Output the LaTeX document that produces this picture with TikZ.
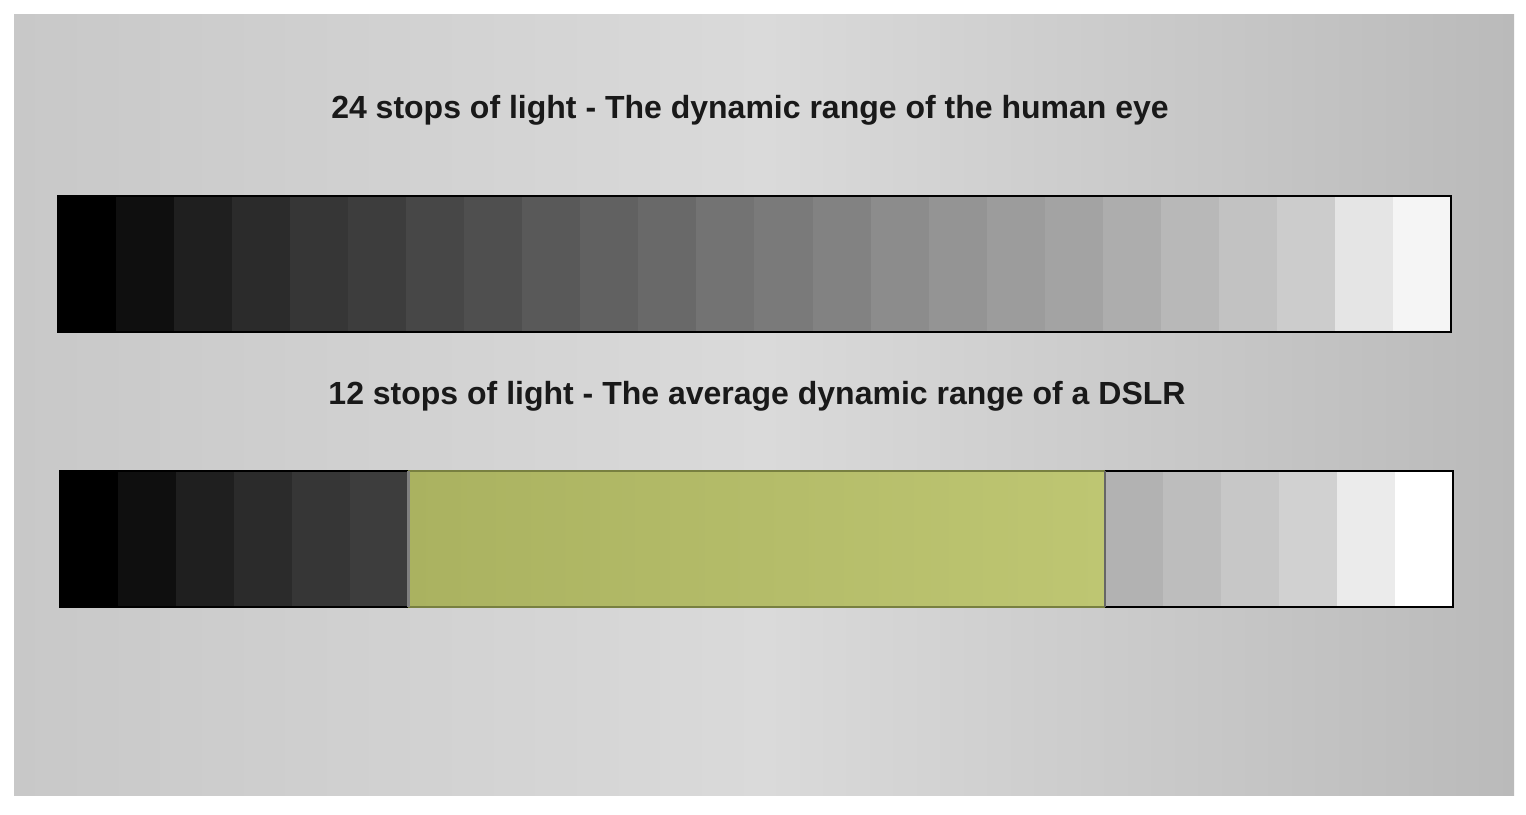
\documentclass[tikz,border=0pt]{standalone}
\usepackage{fontspec}
\setmainfont{Liberation Sans}
\usepackage{xcolor}
\usepackage{tikz}
\usetikzlibrary{positioning}
\definecolor{wallleft}{RGB}{200,200,200}
\definecolor{wallmid}{RGB}{218,218,218}
\definecolor{wallright}{RGB}{186,186,186}
\definecolor{rangeleft}{RGB}{170,178,96}
\definecolor{rangeright}{RGB}{190,198,114}
\definecolor{rangeedge}{RGB}{120,128,64}
\tikzset{
    stepcell/.style = {inner sep=0pt, outer sep=0pt, draw=none,
        minimum width=29.02pt, minimum height=68pt},
    bartitle/.style = {font=\bfseries\fontsize{16}{19}\selectfont, text=black!90},
    barframe/.style = {draw=black, line width=1.2pt},
}

\begin{document}
\begin{tikzpicture}[x=0.5pt, y=-0.5pt]
        \useasboundingbox (0,0) rectangle (1526,814);
        % backdrop
        \shade[left color=wallleft, right color=wallright, middle color=wallmid] (14,14) rectangle (1514,795);
        % human eye, 24 stops
        \node (eyetitle) [bartitle] at (750,110) {24 stops of light - The dynamic range of the human eye};
        \node (eye0) [stepcell, fill=black, anchor=north west] at (58,196) {};
        \foreach \v [count=\i] in {6,12,17,21,24,28,31,35,38,41,45,48,51,55,58,61,64,68,72,76,80,90,96} {
            \pgfmathtruncatemacro\j{\i-1}
            \node (eye\i) [stepcell, fill=white!\v!black, right=0pt of eye\j] {};
        }
        \draw[barframe] (eye0.north west) rectangle (eye23.south east);
        % DSLR, 12 stops
        \node (dslrtitle) [bartitle] at (757,396) {12 stops of light - The average dynamic range of a DSLR};
        \node (dslr0) [stepcell, fill=black, anchor=north west] at (60,471) {};
        \foreach \v [count=\i] in {6,12,17,21,24,28,31,35,38,41,45,48,51,55,58,61,64,70,74,78,82,92,100} {
            \pgfmathtruncatemacro\j{\i-1}
            \node (dslr\i) [stepcell, fill=white!\v!black, right=0pt of dslr\j] {};
        }
        \draw[barframe] (dslr0.north west) rectangle (dslr23.south east);
        \shade[left color=rangeleft, right color=rangeright] (dslr6.north west) rectangle (dslr17.south east);
        \draw[rangeedge, line width=0.8pt] (dslr6.north west) -- (dslr17.north east);
        \draw[rangeedge, line width=0.8pt] (dslr6.south west) -- (dslr17.south east);
        \draw[black!50, line width=1.5pt] (dslr6.north west) -- (dslr6.south west);
        \draw[black!60, line width=1.2pt] (dslr17.north east) -- (dslr17.south east);
\end{tikzpicture}
\end{document}
